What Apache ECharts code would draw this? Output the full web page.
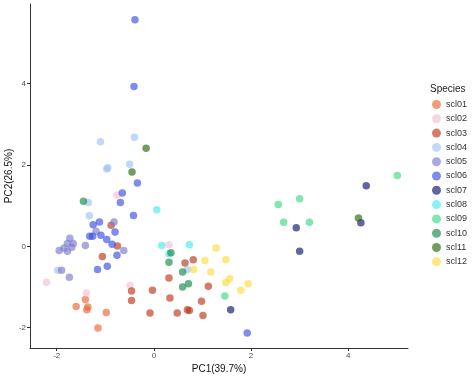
<!DOCTYPE html>
<html>
<head>
<meta charset="utf-8">
<script src="https://cdn.jsdelivr.net/npm/echarts@6/dist/echarts.min.js"></script>
<style>
    html, body {margin: 0; padding: 0; background: #fff;}
    #main {width: 474px; height: 378px;}
</style>
</head>
<body>
<div id="main"></div>
<script>
    // 各物种的 PC1 / PC2 坐标
    var species = ['scl01', 'scl02', 'scl03', 'scl04', 'scl05', 'scl06',
        'scl07', 'scl08', 'scl09', 'scl10', 'scl11', 'scl12'];
    var scl01 = [[-1.41, -1.31], [-1.60, -1.48], [-1.36, -1.49], [-1.38, -1.56], [-0.98, -1.63], [-1.15, -2.01]];
    var scl02 = [[-2.21, -0.88], [-1.39, -1.15], [-0.49, -0.96], [0.31, 0.04], [-0.76, 1.26]];
    var scl03 = [[-0.75, 0.01], [-1.06, -0.25], [-0.46, -1.10], [-0.46, -1.33], [-0.03, -1.08], [-0.08, -1.64],
        [0.64, -0.41], [0.81, -0.33], [0.31, -0.78], [1.12, -0.98], [0.33, -1.27], [0.98, -1.35],
        [0.48, -1.64], [0.69, -1.56], [0.73, -1.58], [1.01, -1.70], [-0.88, 0.52]];
    var scl04 = [[-1.10, 2.57], [-0.40, 2.68], [-0.97, 1.90], [-0.95, 1.93], [-0.50, 2.02], [-1.35, 1.08],
        [-1.33, 0.75], [-1.98, -0.59], [0.69, -0.57]];
    var scl05 = [[-1.73, 0.20], [-1.66, 0.07], [-1.78, 0.07], [-1.85, -0.04], [-1.69, -0.02], [-1.95, -0.10],
        [-1.78, -0.12], [-1.41, 0.02], [-1.90, -0.59], [-1.74, -0.76], [-0.62, -0.10], [-1.19, 0.37], [-0.82, 0.60]];
    var scl06 = [[-0.39, 5.57], [-0.41, 3.93], [-0.34, 1.56], [-0.65, 1.31], [-0.69, 1.08], [-0.42, 0.76],
        [-1.25, 0.53], [-1.12, 0.60], [-0.80, 0.35], [-1.32, 0.25], [-1.26, 0.25], [-1.09, 0.27],
        [-0.97, 0.17], [-0.86, 0.05], [-0.76, -0.22], [-0.96, -0.49], [-1.16, -0.57], [1.92, -2.13]];
    var scl07 = [[1.58, -1.56], [4.37, 1.49], [2.93, 0.46], [3.00, -0.12], [4.26, 0.58]];
    var scl08 = [[0.06, 0.90], [0.16, 0.02], [0.73, 0.04], [0.31, -0.18]];
    var scl09 = [[5.01, 1.74], [2.56, 1.03], [3.00, 1.17], [2.67, 0.59], [3.20, 0.59], [1.46, -1.22]];
    var scl10 = [[-1.45, 1.11], [0.35, -0.16], [0.31, -0.39], [0.59, -0.63], [0.59, -1.00], [0.71, -0.92]];
    var scl11 = [[-0.16, 2.41], [-0.45, 1.83], [4.21, 0.70]];
    var scl12 = [[1.28, -0.04], [1.05, -0.35], [1.48, -0.33], [0.82, -0.57], [1.17, -0.63], [1.48, -0.89],
        [1.56, -0.80], [1.94, -0.92], [1.79, -1.08]];
    var tickValues = [-2, 0, 2, 4];

    var points = [scl01, scl02, scl03, scl04, scl05, scl06, scl07, scl08, scl09, scl10, scl11, scl12];
    var colors = ['#E86635', '#F4BFD5', '#BC3818', '#A1C3F4', '#7B7BCF', '#394FE0',
        '#0F1469', '#45EBEB', '#3DD985', '#148B49', '#25690D', '#FCDB3D'];

    var series = [];
    for (var i = 0; i < species.length; i++) {
        series.push({
            name: species[i],
            type: 'scatter',
            symbolSize: 7.5,
            data: points[i],
            itemStyle: {
                color: colors[i],
                opacity: 0.65
            }
        });
    }

    var axisCommon = {
        type: 'value',
        splitLine: {show: false},
        axisLine: {onZero: false, lineStyle: {color: '#333', width: 1}},
        axisTick: {show: true, length: 3, customValues: tickValues, lineStyle: {color: '#333'}},
        axisLabel: {customValues: tickValues, fontSize: 8, color: '#4d4d4d', margin: 4,
            fontFamily: 'Liberation Sans'},
        nameLocation: 'middle',
        nameMoveOverlap: false,
        nameTextStyle: {fontSize: 10, color: '#111', fontFamily: 'Liberation Sans'}
    };

    var myChart = echarts.init(document.getElementById('main'));
    myChart.setOption({
        animation: false,
        color: colors,
        title: {
            text: 'Species',
            left: 430,
            top: 84,
            padding: 0,
            textStyle: {fontSize: 10, fontWeight: 'normal', color: '#222', fontFamily: 'Liberation Sans'}
        },
        legend: {
            orient: 'vertical',
            left: 432,
            top: 100,
            padding: 0,
            icon: 'circle',
            itemWidth: 9,
            itemHeight: 9,
            itemGap: 5.3,
            textStyle: {fontSize: 9, color: '#333', fontFamily: 'Liberation Sans'},
            data: species
        },
        grid: {left: 30, right: 66, top: 4, bottom: 30, containLabel: false, outerBoundsMode: 'none'},
        xAxis: Object.assign({}, axisCommon, {
            min: -2.55,
            max: 5.23,
            name: 'PC1(39.7%)',
            nameGap: 16
        }),
        yAxis: Object.assign({}, axisCommon, {
            min: -2.5,
            max: 5.96,
            name: 'PC2(26.5%)',
            nameGap: 16
        }),
        series: series
    });
</script>
</body>
</html>
